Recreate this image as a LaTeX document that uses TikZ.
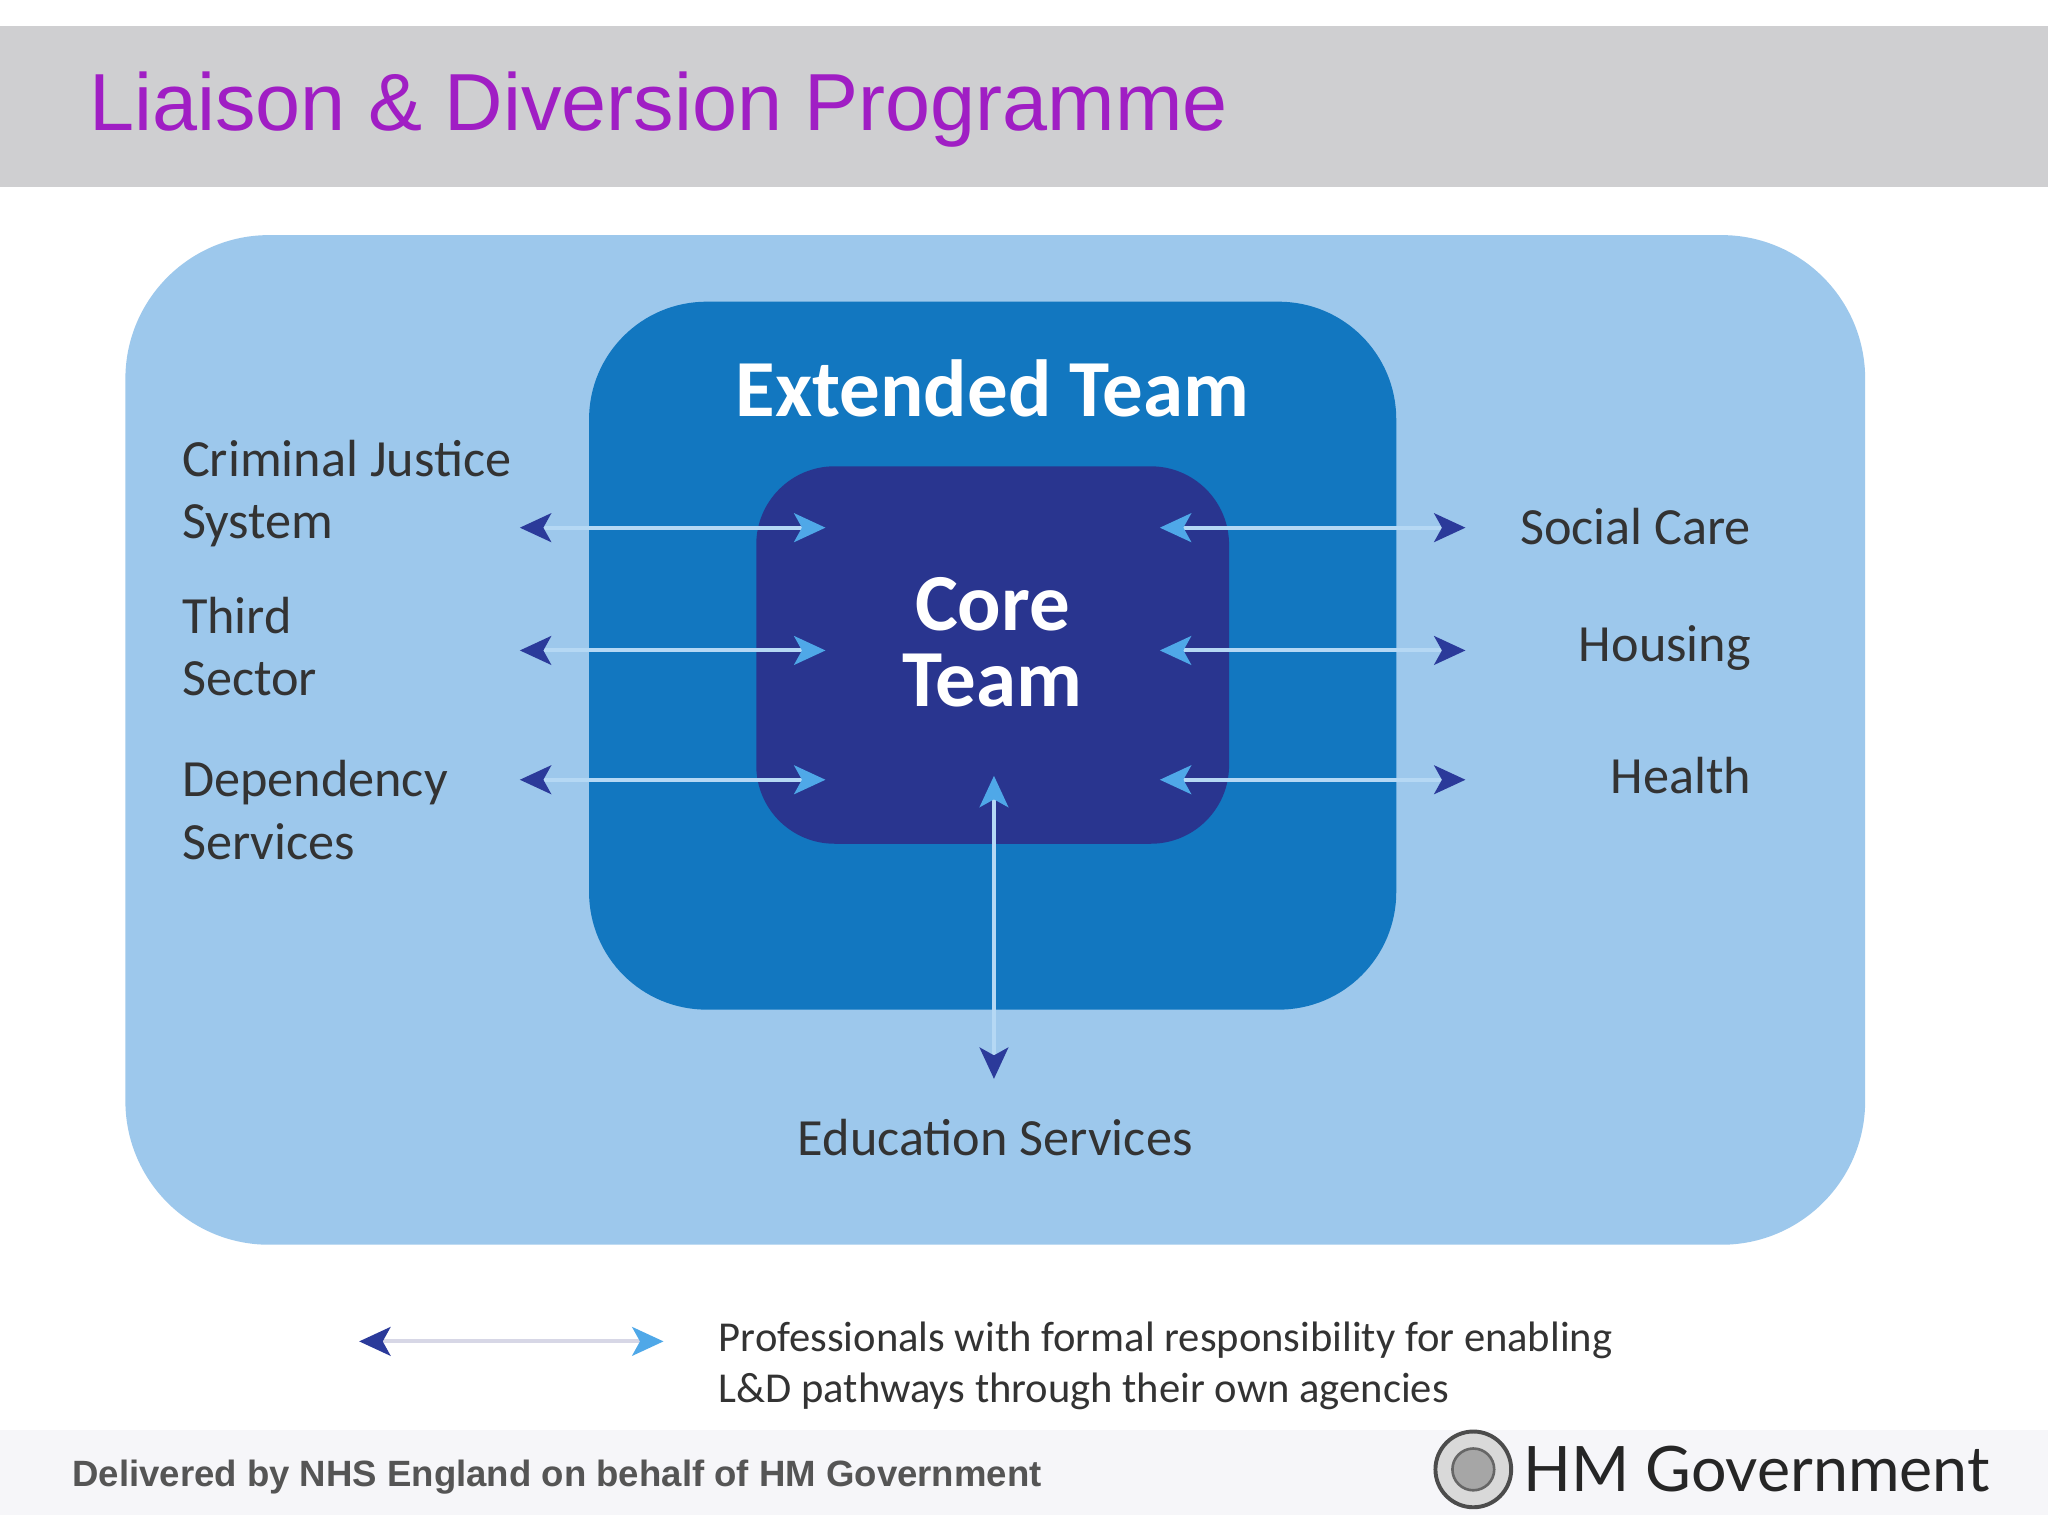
\documentclass[tikz,border=0pt]{standalone}
\usepackage{fontspec}
\setmainfont{Carlito}
\newfontfamily\arialf{Liberation Sans}
\newfontfamily\latof{Lato}
\usetikzlibrary{arrows.meta}
\definecolor{band}{HTML}{CFCFD1}
\definecolor{ttl}{HTML}{A01EC4}
\definecolor{outerc}{HTML}{9DC8EC}
\definecolor{extc}{HTML}{1277C0}
\definecolor{corec}{HTML}{29358F}
\definecolor{dk}{HTML}{2B3A9A}
\definecolor{lt}{HTML}{4FA8E8}
\definecolor{ln}{HTML}{B5D8F4}
\definecolor{txt}{HTML}{333333}
\definecolor{legln}{HTML}{D7D7E6}
\definecolor{footbg}{HTML}{F6F6F9}
\definecolor{foottxt}{HTML}{555555}
\tikzset{
 lbl/.style={font=\fontsize{20}{24}\selectfont, text=txt, inner sep=0pt},
 conn/.style={ln, line width=1.5pt, {Stealth[color=dk,length=12pt,width=11pt,inset=3pt]}-{Stealth[color=lt,length=12pt,width=11pt,inset=3pt]}},
 big/.style={font=\fontsize{31}{30}\selectfont\bfseries, text=white, align=center}
}
\begin{document}
\begin{tikzpicture}[x=0.5pt,y=-0.5pt]
\useasboundingbox (0,0) rectangle (1568,1176);
\fill[white] (0,0) rectangle (1568,1176);
\fill[band] (0,20) rectangle (1568,143);
\node[anchor=base west, text=ttl, font=\arialf\fontsize{31}{34}\selectfont, inner sep=0pt] (title) at (68,100) {Liaison \& Diversion Programme};
\fill[outerc, rounded corners=55pt] (96,180) rectangle (1428,953);
\fill[extc, rounded corners=45pt] (451,231) rectangle (1069,773);
\fill[corec, rounded corners=30pt] (579,357) rectangle (941,646);
\node[big] (ext) at (760,297) {Extended Team};
\node[big, font=\fontsize{31}{29}\selectfont\bfseries] (core) at (760,492) {Core\\Team};
\node[lbl, anchor=west, align=left] (cjs) at (139,378) {Criminal Justice\\System};
\node[lbl, anchor=west, align=left] (ts) at (139,495) {Third\\Sector};
\node[lbl, anchor=west, align=left] (ds) at (139,620) {Dependency\\Services};
\node[lbl, anchor=east] (sc) at (1341,403) {Social Care};
\node[lbl, anchor=east] (ho) at (1341,496) {Housing};
\node[lbl, anchor=east] (he) at (1341,594) {Health};
\node[lbl] (ed) at (762,871) {Education Services};
\foreach \n/\y in {a/404,b/498,c/597}{
 \coordinate (L\n1) at (398,\y); \coordinate (L\n2) at (632,\y);
 \coordinate (R\n1) at (1122,\y); \coordinate (R\n2) at (888,\y);
 \draw[conn] (L\n1) -- (L\n2);
 \draw[conn] (R\n1) -- (R\n2);
}
\coordinate (V1) at (761,826); \coordinate (V2) at (761,594);
\draw[conn] (V1) -- (V2);
\coordinate (G1) at (275,1027); \coordinate (G2) at (508,1027);
\draw[conn, draw=legln] (G1) -- (G2);
\node[lbl, anchor=west, align=left, font=\fontsize{16.3}{19.5}\selectfont] (leg) at (550,1046) {Professionals with formal responsibility for enabling\\L\&D pathways through their own agencies};
\fill[footbg] (0,1095) rectangle (1568,1160);
\node[anchor=west, inner sep=0pt, text=foottxt, font=\arialf\bfseries\fontsize{14}{16}\selectfont] (foot) at (55,1131) {Delivered by NHS England on behalf of HM Government};
\node[circle, draw=black!70, line width=1.5pt, fill=black!15, minimum size=29pt, inner sep=0pt] (crest) at (1128,1125) {};
\node[circle, draw=black!60, line width=1pt, fill=black!35, minimum size=16pt, inner sep=0pt] (crestin) at (crest) {};
\node[anchor=west, inner sep=0pt, text=black!85, font=\latof\fontsize{24}{28}\selectfont] (hmg) at (1166,1125) {HM Government};
\end{tikzpicture}
\end{document}
